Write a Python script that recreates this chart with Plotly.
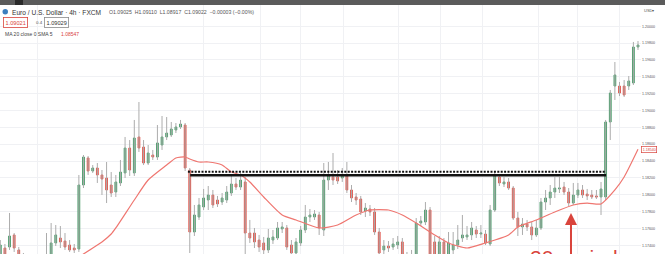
import plotly.graph_objects as go

# ---------------- data (EUR/USD 4h candles) ----------------
opens = [
    1.17273, 1.17368, 1.17380, 1.17523, 1.17345, 1.17273, 1.17166, 1.17250, 1.17155, 1.17083,
    1.17166, 1.17273, 1.17428, 1.17487, 1.17451, 1.17404, 1.17368, 1.17356, 1.18116, 1.18437,
    1.18282, 1.18318, 1.18235, 1.18199, 1.18116, 1.18033, 1.18140, 1.18259, 1.18555, 1.18259,
    1.18686, 1.18567, 1.18377, 1.18472, 1.18448, 1.18591, 1.18686, 1.18710, 1.18769, 1.18805,
    1.18828, 1.18294, 1.17558, 1.17736, 1.17855, 1.17938, 1.17997, 1.17938, 1.17914, 1.17938,
    1.18021, 1.18128, 1.18092, 1.18152, 1.17546, 1.17546, 1.17463, 1.17428, 1.17345, 1.17463,
    1.17487, 1.17594, 1.17606, 1.17404, 1.17309, 1.17428, 1.17582, 1.17736, 1.17736, 1.17760,
    1.17582, 1.18175, 1.18211, 1.18211, 1.18199, 1.18223, 1.18057, 1.17974, 1.17950, 1.17807,
    1.17831, 1.17796, 1.17558, 1.17345, 1.17392, 1.17380, 1.17404, 1.17440, 1.17273, 1.17202,
    1.17273, 1.17665, 1.17677, 1.17819, 1.17440, 1.17273, 1.17440, 1.17273, 1.17345, 1.17404,
    1.17487, 1.17499, 1.17523, 1.17582, 1.17534, 1.17534, 1.17416, 1.17819, 1.18211, 1.18128,
    1.18152, 1.18080, 1.17724, 1.17618, 1.17653, 1.17618, 1.17523, 1.17606, 1.17914, 1.17962,
    1.18033, 1.18069, 1.18092, 1.18033, 1.17902, 1.17997, 1.18057, 1.18009, 1.17997, 1.17986,
    1.17974, 1.17974, 1.18864, 1.19291, 1.19291, 1.19291, 1.19291, 1.19327, 1.19754]

highs = [
    1.17463, 1.17416, 1.17784, 1.17546, 1.17380, 1.17309, 1.17273, 1.17273, 1.17202, 1.17250,
    1.17546, 1.17665, 1.17641, 1.17629, 1.17546, 1.17463, 1.17416, 1.18235, 1.18472, 1.18460,
    1.18353, 1.18377, 1.18294, 1.18389, 1.18270, 1.18235, 1.18413, 1.18686, 1.18650, 1.18888,
    1.19101, 1.18650, 1.18591, 1.18532, 1.18828, 1.18935, 1.18923, 1.18864, 1.18852, 1.18888,
    1.18852, 1.18318, 1.17879, 1.17962, 1.18069, 1.18104, 1.18057, 1.17986, 1.18021, 1.18104,
    1.18235, 1.18199, 1.18259, 1.18211, 1.17701, 1.17606, 1.17523, 1.17499, 1.17594, 1.17582,
    1.17677, 1.17677, 1.17641, 1.17463, 1.17487, 1.17629, 1.17879, 1.17831, 1.17819, 1.17796,
    1.18377, 1.18389, 1.18496, 1.18294, 1.18318, 1.18389, 1.18116, 1.18021, 1.17986, 1.17902,
    1.17879, 1.17843, 1.17606, 1.17463, 1.17451, 1.17487, 1.17511, 1.17487, 1.17321, 1.17345,
    1.17724, 1.17748, 1.17914, 1.17855, 1.17511, 1.17511, 1.17487, 1.17558, 1.17558, 1.17641,
    1.17760, 1.17629, 1.17677, 1.17629, 1.17641, 1.17582, 1.17879, 1.18270, 1.18247, 1.18211,
    1.18199, 1.18104, 1.17796, 1.17724, 1.17701, 1.17677, 1.17701, 1.17962, 1.18057, 1.18116,
    1.18211, 1.18211, 1.18152, 1.18080, 1.18140, 1.18140, 1.18116, 1.18069, 1.18057, 1.18057,
    1.18152, 1.18888, 1.19244, 1.19576, 1.19339, 1.19362, 1.19410, 1.19814, 1.19825]

lows = [
    1.17226, 1.17202, 1.17345, 1.17321, 1.17226, 1.17155, 1.17107, 1.17083, 1.17048, 1.17048,
    1.17131, 1.17226, 1.17392, 1.17368, 1.17345, 1.17321, 1.17309, 1.17321, 1.18080, 1.18235,
    1.18259, 1.18140, 1.17997, 1.17902, 1.17974, 1.17974, 1.18104, 1.18199, 1.18223, 1.18223,
    1.18508, 1.18353, 1.18353, 1.18413, 1.18413, 1.18532, 1.18650, 1.18686, 1.18733, 1.18781,
    1.18282, 1.17309, 1.17511, 1.17701, 1.17819, 1.17819, 1.17843, 1.17855, 1.17879, 1.17902,
    1.17986, 1.18057, 1.18057, 1.17297, 1.17428, 1.17368, 1.17321, 1.17297, 1.17309, 1.17416,
    1.17463, 1.17546, 1.17345, 1.17273, 1.17273, 1.17392, 1.17546, 1.17677, 1.17701, 1.17523,
    1.17511, 1.18057, 1.18116, 1.18128, 1.18152, 1.18021, 1.17914, 1.17879, 1.17760, 1.17736,
    1.17748, 1.17523, 1.17273, 1.17297, 1.17321, 1.17345, 1.17356, 1.17226, 1.17155, 1.17166,
    1.17250, 1.17629, 1.17641, 1.17250, 1.17226, 1.17226, 1.17226, 1.17250, 1.17297, 1.17356,
    1.17440, 1.17463, 1.17463, 1.17487, 1.17487, 1.17404, 1.17392, 1.17796, 1.18104, 1.18092,
    1.18057, 1.17701, 1.17511, 1.17523, 1.17570, 1.17463, 1.17499, 1.17582, 1.17819, 1.17879,
    1.17962, 1.18021, 1.17997, 1.17867, 1.17879, 1.17962, 1.17962, 1.17938, 1.17950, 1.17950,
    1.17760, 1.17938, 1.18650, 1.19125, 1.19172, 1.19161, 1.19244, 1.19303, 1.19719]

closes = [
    1.17404, 1.17261, 1.17511, 1.17368, 1.17273, 1.17202, 1.17250, 1.17131, 1.17083, 1.17202,
    1.17273, 1.17428, 1.17523, 1.17440, 1.17380, 1.17345, 1.17345, 1.18116, 1.18448, 1.18282,
    1.18318, 1.18235, 1.18187, 1.18057, 1.18021, 1.18152, 1.18270, 1.18555, 1.18294, 1.18674,
    1.18555, 1.18377, 1.18496, 1.18448, 1.18615, 1.18686, 1.18733, 1.18781, 1.18805, 1.18840,
    1.18318, 1.17558, 1.17760, 1.17879, 1.17962, 1.17997, 1.17879, 1.17891, 1.17962, 1.18033,
    1.18128, 1.18092, 1.18175, 1.17546, 1.17487, 1.17440, 1.17380, 1.17345, 1.17487, 1.17499,
    1.17606, 1.17618, 1.17380, 1.17309, 1.17440, 1.17582, 1.17736, 1.17760, 1.17772, 1.17606,
    1.18175, 1.18223, 1.18175, 1.18164, 1.18223, 1.18057, 1.17962, 1.17938, 1.17796, 1.17843,
    1.17796, 1.17558, 1.17309, 1.17392, 1.17368, 1.17416, 1.17440, 1.17297, 1.17202, 1.17285,
    1.17665, 1.17689, 1.17819, 1.17297, 1.17273, 1.17440, 1.17273, 1.17428, 1.17404, 1.17463,
    1.17523, 1.17523, 1.17606, 1.17534, 1.17546, 1.17428, 1.17819, 1.18235, 1.18140, 1.18152,
    1.18080, 1.17724, 1.17618, 1.17653, 1.17618, 1.17523, 1.17606, 1.17914, 1.17962, 1.18033,
    1.18080, 1.18080, 1.18033, 1.17902, 1.17997, 1.18057, 1.17997, 1.17986, 1.17974, 1.17974,
    1.18069, 1.18864, 1.19208, 1.19422, 1.19208, 1.19184, 1.19351, 1.19754, 1.19778]

# 20-period moving average, read at selected candles
ma_index = [16, 18, 22, 24, 25, 29, 32, 36, 38, 40, 41, 43, 45, 48, 50, 52, 54, 57, 61, 64,
            69, 73, 77, 80, 84, 87, 90, 94, 97, 101, 105, 110, 112, 116, 120, 124, 127, 130,
            133, 135, 138]
ma_values = [1.17202, 1.17297, 1.17440, 1.17534, 1.17606, 1.17938, 1.18175, 1.18353, 1.18437,
             1.18448, 1.18425, 1.18389, 1.18389, 1.18353, 1.18270, 1.18235, 1.18152, 1.17974,
             1.17760, 1.17701, 1.17606, 1.17641, 1.17760, 1.17819, 1.17819, 1.17760, 1.17665,
             1.17523, 1.17428, 1.17368, 1.17428, 1.17523, 1.17618, 1.17701, 1.17796, 1.17879,
             1.17902, 1.17891, 1.18057, 1.18211, 1.18540]

price_ticks = [1.174, 1.176, 1.178, 1.180, 1.182, 1.184, 1.186, 1.188, 1.190, 1.192,
               1.194, 1.196, 1.198, 1.200]
resistance_level = 1.18231      # solid black line
resistance_dotted = 1.18274     # dotted black line
ma_last = 1.18540

# ---------------- figure ----------------
W, H = 665, 254
PLOT_W = 641
n = len(opens)
idx = list(range(n))

GREEN = "#4f9e6e"
RED = "#e05a50"
WICK = "#acacac"
MA_COL = "#ef7670"

def px(x):   # pixel -> paper x
    return x / PLOT_W

def py(y):   # pixel -> paper y
    return 1 - y / H

fig = go.Figure()

# wicks
wx, wy = [], []
for i in idx:
    wx += [i, i, None]
    wy += [lows[i], highs[i], None]
fig.add_trace(go.Scatter(x=wx, y=wy, mode="lines",
                         line=dict(color=WICK, width=1), hoverinfo="skip", showlegend=False))

# bodies
body_hi = [max(o, c) for o, c in zip(opens, closes)]
body_lo = [min(o, c) for o, c in zip(opens, closes)]
fig.add_trace(go.Candlestick(
    x=idx, open=opens, high=body_hi, low=body_lo, close=closes,
    increasing=dict(line=dict(color=GREEN, width=1), fillcolor=GREEN),
    decreasing=dict(line=dict(color=RED, width=1), fillcolor=RED),
    whiskerwidth=0, showlegend=False))

# moving average
fig.add_trace(go.Scatter(x=ma_index, y=ma_values, mode="lines",
                         line=dict(color=MA_COL, width=1.2, shape="spline", smoothing=0.6),
                         hoverinfo="skip", showlegend=False))

shapes = []
# top dark bar
shapes.append(dict(type="rect", xref="paper", yref="paper", x0=0, x1=W / PLOT_W,
                   y0=py(5), y1=1, fillcolor="#5b5b5b", line=dict(width=0), layer="above"))
shapes.append(dict(type="rect", xref="paper", yref="paper", x0=px(15), x1=px(23),
                   y0=py(5), y1=1, fillcolor="#2a2a2a", line=dict(width=0), layer="above"))
# resistance lines
shapes.append(dict(type="line", xref="x", yref="y", x0=40.6, x1=131.1,
                   y0=resistance_dotted, y1=resistance_dotted,
                   line=dict(color="#111111", width=2, dash="2px,1.4px")))
shapes.append(dict(type="line", xref="x", yref="y", x0=41.1, x1=131.1,
                   y0=resistance_level, y1=resistance_level,
                   line=dict(color="#111111", width=2.5)))
# header icon
shapes.append(dict(type="circle", xref="paper", yref="paper", x0=px(2.5), x1=px(8),
                   y0=py(14.5), y1=py(9), fillcolor="#3b7fbf", line=dict(width=0)))

ann = []
def txt(x, y, s, size, color, **kw):
    d = dict(xref="paper", yref="paper", x=px(x), y=py(y), text=s, showarrow=False,
             xanchor="left", yanchor="middle", font=dict(size=size, color=color, family="Arial"))
    d.update(kw)
    ann.append(d)

txt(9.5, 12, "Euro / U.S. Dollar · 4h · FXCM", 6.6, "#333333")
txt(107, 12, "O1.09025  H1.09110  L1.08917  C1.09022  −0.00003 (−0.00%)", 5.2, "#555555")
txt(3, 22.5, "1.09021", 5.6, "#d9443c", bordercolor="#d9443c", borderwidth=0.8, borderpad=1.8,
    bgcolor="white")
txt(43.5, 22.5, "1.09029", 5.6, "#333333", bordercolor="#8a8a8a", borderwidth=0.8, borderpad=1.8,
    bgcolor="white")
txt(33.5, 22.5, "0.4", 4.4, "#555555")
txt(3, 34.5, "MA 20 close 0 SMA 5", 5, "#444444")
txt(59, 34.5, "1.08547", 5, "#d9443c")
txt(642, 10, "USD▾", 4, "#555555")

# MA last value label on the price scale
ann.append(dict(xref="paper", yref="y", x=px(641), y=ma_last, text="1.18540", showarrow=False,
                xanchor="left", yanchor="middle", font=dict(size=3.6, color="#d9443c", family="Arial"),
                bordercolor="#d9443c", borderwidth=0.7, borderpad=1, bgcolor="white"))

# red arrow and caption
ann.append(dict(xref="x", yref="y", x=123.5, y=1.17784, axref="x", ayref="y", ax=123.5, ay=1.1718,
                text="", showarrow=True, arrowhead=2, arrowsize=1.2, arrowwidth=2,
                arrowcolor="#d9443c"))
ann.append(dict(xref="paper", yref="paper", x=px(528), y=py(244), text="20 period",
                showarrow=False, xanchor="left", yanchor="top",
                font=dict(size=21, color="#d9443c", family="Arial")))

fig.update_layout(
    width=W, height=H,
    margin=dict(l=0, r=W - PLOT_W, t=0, b=0),
    paper_bgcolor="white", plot_bgcolor="white",
    showlegend=False, shapes=shapes, annotations=ann,
    boxgap=0.45,
    xaxis=dict(range=[-0.065, 138.65], rangeslider=dict(visible=False),
               tickvals=[8.0, 43.9, 56.2, 64.9, 74.2, 86.1, 95.2, 104.3, 116.4, 124.8, 133.9],
               showticklabels=False, ticks="", showgrid=True, gridcolor="#f0f1f4", gridwidth=1,
               zeroline=False, showline=False, fixedrange=True),
    yaxis=dict(range=[1.17297, 1.20312], side="right", tickvals=price_ticks,
               ticktext=[f"{v:.5f}" for v in price_ticks], ticks="",
               tickfont=dict(size=3.6, color="#555555", family="Arial"),
               showgrid=True, gridcolor="#f0f1f4", gridwidth=1, zeroline=False, showline=False,
               fixedrange=True),
)

fig.write_html("out.html")
